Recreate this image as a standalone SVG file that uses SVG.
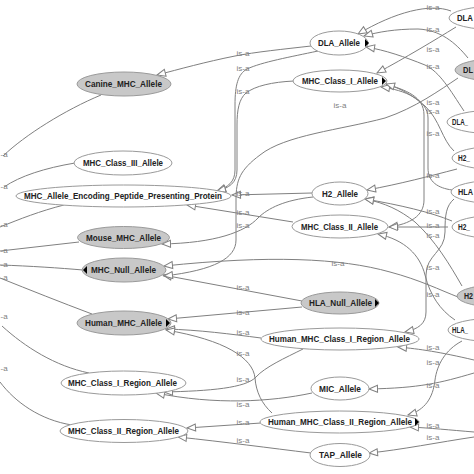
<svg xmlns="http://www.w3.org/2000/svg" width="474" height="474" viewBox="0 0 474 474">
<style>
.node ellipse{fill:#ffffff;stroke:#9a9a9a;stroke-width:1}
.gray ellipse{fill:#c8c8c8}
.nl{font-family:"Liberation Sans",Arial,sans-serif;font-size:8.5px;font-weight:bold;fill:#222}
.mk{fill:#000}
.edge path{fill:none;stroke:#808080;stroke-width:1}
.arr{marker-end:url(#oa)}
.lbl{font-family:"Liberation Sans",Arial,sans-serif;font-size:8px;fill:#808080;text-anchor:middle}
.lbl .edgel{text-anchor:start}
</style>
<defs>
<marker id="oa" markerWidth="10" markerHeight="8" refX="9" refY="4" orient="auto" markerUnits="userSpaceOnUse" overflow="visible">
<path d="M0.5,0.5 L9,4 L0.5,7.5 Z" fill="#ffffff" stroke="#808080" stroke-width="1"/>
</marker>
</defs>
<rect width="474" height="474" fill="#ffffff"/>
<g id="connectors" class="edge">
<!-- far left -->
<path d="M101,95 C65,110 25,135 3,156"/>
<path d="M75,163 C45,168 20,176 4,187"/>
<path d="M64,205 C40,211 20,219 0,227"/>
<path d="M79,242 L0,251"/>
<path d="M0,265 C30,266 60,268 83,270"/>
<path d="M0,278 C30,290 60,302 92,314"/>
<path d="M2,326 C25,347 55,366 89,373"/>
<path d="M0,382 C15,402 40,420 72,425"/>
<!-- center to left column -->
<path class="arr" d="M311,46 C285,49 255,52 235,56 C205,62 180,69 157,75"/>
<path class="arr" d="M318,51 C290,57 262,62 247,69 C238,74 235,85 235,105 L235,170 C235,182 228,187 217,191"/>
<path class="arr" d="M294,81 C272,82 255,86 246,93 C239,99 237,110 237,125 L237,170 C237,183 229,188 217,191"/>
<path class="arr" d="M312,193 L232,195"/>
<path class="arr" d="M293,222 L187,205"/>
<path class="arr" d="M313,197 C285,200 268,208 258,218 C245,232 215,243 162,244"/>
<path class="arr" d="M302,301 L163,275"/>
<path class="arr" d="M302,307 L168,319"/>
<path class="arr" d="M261,338 C230,334 200,330 166,329"/>
<path class="arr" d="M272,413 C262,404 256,392 255,378 C253,358 225,340 166,330"/>
<path class="arr" d="M303,349 C285,358 265,367 256,377 C246,388 210,391 164,392"/>
<path class="arr" d="M312,393 C270,402 215,405 156,393"/>
<path class="arr" d="M261,423 L187,428"/>
<path class="arr" d="M311,453 C270,448 225,442 178,437"/>
<!-- right column to center -->
<path class="arr" d="M451,11 C430,3 395,12 358,34"/>
<path class="arr" d="M468,58 C455,42 440,30 418,29 C395,29 378,32 364,36"/>
<path class="arr" d="M456,27 C435,40 405,58 377,73"/>
<path class="arr" d="M464,111 C450,90 440,72 425,65 C405,57 385,50 366,47"/>
<path class="arr" d="M458,78 C440,90 415,108 385,118 C340,130 285,135 260,155 C240,170 236,180 236,200 L236,240 C236,258 215,270 164,276"/>
<path class="arr" d="M386,84 C405,90 424,96 424,115 L424,200 C424,216 410,224 389,227"/>
<path class="arr" d="M452,190 C438,188 428,182 428,168 L428,118 C428,100 405,90 381,87"/>
<path class="arr" d="M454,151 C442,140 440,120 425,106 C412,95 400,88 386,84"/>
<path class="arr" d="M457,169 C430,176 400,184 367,190"/>
<path class="arr" d="M452,221 C430,212 400,205 365,199"/>
<path class="arr" d="M448,227 L389,227"/>
<path class="arr" d="M462,286 C450,265 435,240 415,222 C400,210 385,203 365,199"/>
<path class="arr" d="M455,320 C440,310 430,295 425,275 C420,255 405,240 378,234"/>
<path class="arr" d="M454,199 C446,206 445,215 445,232 C445,252 426,255 426,275 L426,312 C426,324 418,329 405,332"/>
<path class="arr" d="M458,297 C440,290 420,280 390,272 C340,258 270,255 164,266"/>
<path class="arr" d="M474,360 C440,352 420,349 398,347"/>
<path class="arr" d="M462,341 C445,350 437,365 435,380 C433,398 425,410 408,415"/>
<path class="arr" d="M474,373 C440,383 420,388 369,389"/>
<path class="arr" d="M474,432 C450,430 430,428 410,427"/>
<path class="arr" d="M474,437 C440,442 400,450 369,453"/>
<!-- labels -->
<g class="lbl">
<text class="edgel" x="0.5" y="157">-a</text>
<text class="edgel" x="0.5" y="189">-a</text>
<text class="edgel" x="0.5" y="227">-a</text>
<text class="edgel" x="0.5" y="253">-a</text>
<text class="edgel" x="0.5" y="267">-a</text>
<text class="edgel" x="0.5" y="280">-a</text>
<text class="edgel" x="0.5" y="319">-a</text>
<text class="edgel" x="0.5" y="371">-a</text>
<text x="243" y="56">is-a</text>
<text x="243" y="71">is-a</text>
<text x="243" y="94">is-a</text>
<text x="243" y="196">is-a</text>
<text x="243" y="215">is-a</text>
<text x="243" y="228">is-a</text>
<text x="243" y="290">is-a</text>
<text x="243" y="315">is-a</text>
<text x="243" y="335">is-a</text>
<text x="243" y="356">is-a</text>
<text x="243" y="382">is-a</text>
<text x="243" y="407">is-a</text>
<text x="243" y="425">is-a</text>
<text x="243" y="443">is-a</text>
<text x="340" y="108">is-a</text>
<text x="338" y="266">is-a</text>
<text x="433" y="10">is-a</text>
<text x="433" y="32">is-a</text>
<text x="433" y="52">is-a</text>
<text x="433" y="69">is-a</text>
<text x="433" y="105">is-a</text>
<text x="433" y="114">is-a</text>
<text x="433" y="136">is-a</text>
<text x="433" y="178">is-a</text>
<text x="433" y="214">is-a</text>
<text x="433" y="228">is-a</text>
<text x="433" y="238">is-a</text>
<text x="433" y="270">is-a</text>
<text x="433" y="297">is-a</text>
<text x="433" y="350">is-a</text>
<text x="433" y="365">is-a</text>
<text x="433" y="388">is-a</text>
<text x="433" y="428">is-a</text>
<text x="433" y="440">is-a</text>
</g>
</g>
<!-- left column nodes -->
<g id="n-canine" class="node gray"><ellipse cx="124" cy="84" rx="47" ry="12"/><text class="nl" x="85" y="87" textLength="77" lengthAdjust="spacingAndGlyphs">Canine_MHC_Allele</text></g>
<g id="n-class3" class="node"><ellipse cx="123" cy="163" rx="49" ry="12"/><text class="nl" x="83" y="166" textLength="80" lengthAdjust="spacingAndGlyphs">MHC_Class_III_Allele</text></g>
<g id="n-encoding" class="node"><ellipse cx="123.5" cy="196" rx="107.5" ry="11"/><text class="nl" x="24" y="199" textLength="198" lengthAdjust="spacingAndGlyphs">MHC_Allele_Encoding_Peptide_Presenting_Protein</text></g>
<g id="n-mouse" class="node gray"><ellipse cx="123.5" cy="237.5" rx="46" ry="11"/><text class="nl" x="86" y="240.5" textLength="75" lengthAdjust="spacingAndGlyphs">Mouse_MHC_Allele</text></g>
<g id="n-null" class="node gray"><ellipse cx="124" cy="270" rx="42" ry="12"/><polygon class="mk" points="87,266 83,270 87,274"/><text class="nl" x="91" y="273" textLength="65" lengthAdjust="spacingAndGlyphs">MHC_Null_Allele</text></g>
<g id="n-human" class="node gray"><ellipse cx="124" cy="323" rx="47" ry="12"/><polygon class="mk" points="166,319 170,323 166,327"/><text class="nl" x="85" y="326" textLength="77" lengthAdjust="spacingAndGlyphs">Human_MHC_Allele</text></g>
<g id="n-class1region" class="node"><ellipse cx="123.5" cy="383" rx="62.5" ry="12"/><text class="nl" x="68" y="386" textLength="109" lengthAdjust="spacingAndGlyphs">MHC_Class_I_Region_Allele</text></g>
<g id="n-class2region" class="node"><ellipse cx="124" cy="431" rx="64" ry="11.5"/><text class="nl" x="68" y="434" textLength="111" lengthAdjust="spacingAndGlyphs">MHC_Class_II_Region_Allele</text></g>
<!-- center column nodes -->
<g id="n-dla" class="node"><ellipse cx="339" cy="43" rx="29" ry="12"/><polygon class="mk" points="365,39 369,43 365,47"/><text class="nl" x="318" y="46" textLength="42" lengthAdjust="spacingAndGlyphs">DLA_Allele</text></g>
<g id="n-class1" class="node"><ellipse cx="340" cy="81" rx="47" ry="11"/><polygon class="mk" points="382,77 386,81 382,85"/><text class="nl" x="302" y="84" textLength="76" lengthAdjust="spacingAndGlyphs">MHC_Class_I_Allele</text></g>
<g id="n-h2" class="node"><ellipse cx="340" cy="193.5" rx="28" ry="11.5"/><text class="nl" x="322" y="196.5" textLength="36" lengthAdjust="spacingAndGlyphs">H2_Allele</text></g>
<g id="n-class2" class="node"><ellipse cx="340" cy="226.5" rx="48" ry="11.5"/><text class="nl" x="301" y="229.5" textLength="77" lengthAdjust="spacingAndGlyphs">MHC_Class_II_Allele</text></g>
<g id="n-hlanull" class="node gray"><ellipse cx="340" cy="303" rx="39" ry="11"/><polygon class="mk" points="375,299 379,303 375,307"/><text class="nl" x="309" y="306" textLength="63" lengthAdjust="spacingAndGlyphs">HLA_Null_Allele</text></g>
<g id="n-hc1r" class="node"><ellipse cx="340" cy="339" rx="79" ry="11"/><text class="nl" x="269" y="342" textLength="141" lengthAdjust="spacingAndGlyphs">Human_MHC_Class_I_Region_Allele</text></g>
<g id="n-mic" class="node"><ellipse cx="340" cy="388.5" rx="29" ry="11.5"/><text class="nl" x="319" y="391.5" textLength="42" lengthAdjust="spacingAndGlyphs">MIC_Allele</text></g>
<g id="n-hc2r" class="node"><ellipse cx="339.5" cy="422" rx="79.5" ry="11"/><polygon class="mk" points="415,418 419,422 415,426"/><text class="nl" x="268" y="425" textLength="144" lengthAdjust="spacingAndGlyphs">Human_MHC_Class_II_Region_Allele</text></g>
<g id="n-tap" class="node"><ellipse cx="340" cy="455" rx="30" ry="11.5"/><text class="nl" x="319" y="458" textLength="43" lengthAdjust="spacingAndGlyphs">TAP_Allele</text></g>
<!-- right column nodes (clipped) -->
<g id="n-r1" class="node"><ellipse cx="499" cy="18" rx="50" ry="12"/><text class="nl" x="457" y="21" textLength="16" lengthAdjust="spacingAndGlyphs">DLA</text></g>
<g id="n-r2" class="node gray"><ellipse cx="505" cy="70" rx="50" ry="12"/><text class="nl" x="463" y="73" textLength="10" lengthAdjust="spacingAndGlyphs">DL</text></g>
<g id="n-r3" class="node"><ellipse cx="497" cy="122" rx="50" ry="12"/><text class="nl" x="452" y="125" textLength="16" lengthAdjust="spacingAndGlyphs">DLA_</text></g>
<g id="n-r4" class="node"><ellipse cx="502" cy="158" rx="50" ry="12"/><text class="nl" x="458" y="161" textLength="12" lengthAdjust="spacingAndGlyphs">H2_</text></g>
<g id="n-r5" class="node"><ellipse cx="501" cy="192" rx="50" ry="12"/><text class="nl" x="458" y="195" textLength="15" lengthAdjust="spacingAndGlyphs">HLA</text></g>
<g id="n-r6" class="node"><ellipse cx="502" cy="227" rx="50" ry="12"/><text class="nl" x="458" y="230" textLength="12" lengthAdjust="spacingAndGlyphs">H2_</text></g>
<g id="n-r7" class="node gray"><ellipse cx="507" cy="296" rx="50" ry="12"/><text class="nl" x="464" y="299" textLength="9" lengthAdjust="spacingAndGlyphs">H2</text></g>
<g id="n-r8" class="node"><ellipse cx="498" cy="330" rx="50" ry="12"/><text class="nl" x="452" y="333" textLength="16" lengthAdjust="spacingAndGlyphs">HLA_</text></g>
</svg>
